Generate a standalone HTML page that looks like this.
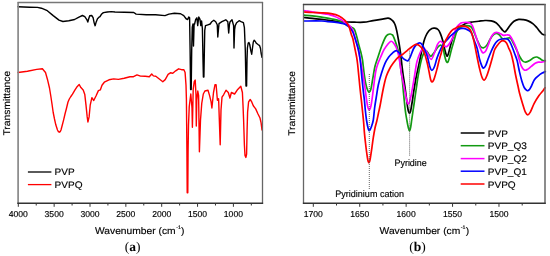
<!DOCTYPE html>
<html><head><meta charset="utf-8"><title>FTIR spectra</title>
<style>html,body{margin:0;padding:0;background:#fff;}svg{display:block;}</style>
</head><body>
<svg width="550" height="256" viewBox="0 0 550 256" text-rendering="geometricPrecision">
<rect width="550" height="256" fill="#fff"/>
<g fill="none" stroke-linejoin="round" stroke-linecap="round">
<polyline points="18,72.5 27.4,71.25 36.75,69.4 42.4,68.75 45.5,72.5 47.7,80.3 49.5,88 50.8,96 52,104 53.2,112.5 54.5,119 55.8,124.8 57.5,130 58.4,131.6 59.3,132.2 60.2,131.6 61,130 62.3,125 63.7,119.6 65,114 66.3,109 68,102 69.3,99 70.7,96.75 72.5,94.2 75,89.9 77.3,86.4 79.2,84.5 80.9,87.6 83.2,89.9 84.8,94.6 86,105.2 87.2,116.9 87.9,122 89.1,116.9 90.2,105.2 91.9,97.7 93.75,100.5 96.1,95.8 98.4,90.6 100.3,89.9 102,85.2 104.3,82.2 109,79.8 113.7,78.9 118.4,79.4 124.2,78.2 130,76.7 133.5,76.7 137,74.9 140.5,76.1 145.2,76.3 149.3,76.7 151.7,74 153.4,75.9 155.8,76.3 159.3,79 162.8,81.7 165.2,79.6 168.1,74.3 170.4,72.8 172.8,73.2 175.7,70.8 178.6,68.8 181.6,69.7 183.9,69.7 185.1,72.6 186,85 186.4,98.75 186.9,150 187.2,192.8 187.8,192.8 188.1,150 188.5,125 189.25,106.6 190.8,94 192,108 192.4,127.2 192.8,108 193.2,89.4 194.25,81.6 195.2,80 196,95 196.3,126 196.8,100 197.8,91 198.6,95.6 199.4,151.7 200.5,120 201.75,103.4 203.3,94 204.9,91 208,90.2 209.6,95.6 211.1,101.9 211.9,108 213.5,92.5 215,84.7 216.1,84.7 217.4,100.3 218.6,98.75 220.2,144.7 221,110 222,97.2 223.6,94.8 226,90.2 228.3,92.5 229.9,98 231.4,92.5 234.6,94 237.7,89.4 240.8,86.25 242.4,92.5 243,105 243.6,120 244.4,145 245,155.5 245.9,157.4 246.6,154 247.1,130 247.6,112 248.6,101.9 250.2,99.5 251.75,101.9 253.3,105.8 255.7,108.9 258,114 260,118 261.1,122.8 262,130" stroke="#ff0000" stroke-width="1.4"/>
<polyline points="18,6.8 29.7,7.2 37.5,7.4 41.4,8.2 47.3,10.7 53.2,15.6 59,20.1 62.9,21.5 68.8,20.7 74.6,19.5 78,17.7 80,16.7 82.4,15.5 84.8,16.7 86.8,19.6 87.8,22.1 88.7,18.7 89.7,15.7 91.7,15.5 93.1,17.7 94.1,22.6 95.1,25.7 96,22.6 97.5,18.7 99,17.2 100,16.7 101.4,14.3 103.4,12.6 107.3,12 111.2,11.6 115,12 124.4,12.2 133.8,12.5 136.1,14.1 146.25,14.8 155.6,14.8 165,15.6 168.9,14.1 174.4,13.3 180.6,13.75 183.75,15.6 186.1,18.75 187.7,19.5 188.75,16.9 189.6,17.8 190.1,50 190.6,89.6 191.2,89.6 191.7,50 192.25,27.2 193,24 193.5,46 194.1,24 194.6,24 195.7,19.4 196.9,17.8 197.7,25.6 198.8,17 200,19.4 200.8,25.6 201.6,21 202.4,28.75 203,60 203.4,77 203.9,77 204.3,55 204.75,30.3 205.5,25.6 207.9,24.8 210.2,24 211.8,21.7 213.8,20.2 215.7,21.7 217.25,24.8 217.8,37 218.4,30 219,23.7 221.9,21.7 225.8,19.8 227.8,21.7 228.7,33 229.5,24 230.1,21.7 232,19.8 233.6,25.6 234,48 234.6,30 235.2,25.6 236.6,22.7 239.1,20.7 241,21.7 243.4,22.7 244.4,27.6 245.3,50 246,86 246.6,86 247,60 247.4,48 248.2,43 248.9,42.5 249.7,44.5 250.8,50.5 251.7,54.2 252.5,48 253.3,42 254.1,40.2 255.3,41.5 256.4,43.3 258,44.5 259.6,45.6 260.5,48.5 261.1,53 262,57.3" stroke="#000" stroke-width="1.4"/>
</g>
<line x1="18.1" y1="2.2" x2="18.1" y2="204" stroke="#888" stroke-width="1.7"/>
<line x1="17.5" y1="2.6" x2="263.1" y2="2.6" stroke="#777" stroke-width="1.5"/>
<line x1="262.5" y1="2.2" x2="262.5" y2="204" stroke="#666" stroke-width="1.3"/>
<line x1="17.4" y1="203.3" x2="263.1" y2="203.3" stroke="#333" stroke-width="1.4"/>
<path d="M18.3,203.3v3.5M36.23,203.3v2.2M54.15,203.3v3.5M72.08,203.3v2.2M90,203.3v3.5M107.92,203.3v2.2M125.85,203.3v3.5M143.78,203.3v2.2M161.7,203.3v3.5M179.62,203.3v2.2M197.55,203.3v3.5M215.48,203.3v2.2M233.4,203.3v3.5M251.33,203.3v2.2" stroke="#333" stroke-width="1" fill="none"/>
<g font-family="'Liberation Sans', Arial, sans-serif" font-size="8.6" fill="#000" stroke="#000" stroke-width="0.15" text-anchor="middle">
<text x="18.3" y="216.6">4000</text>
<text x="54.15" y="216.6">3500</text>
<text x="90" y="216.6">3000</text>
<text x="125.85" y="216.6">2500</text>
<text x="161.7" y="216.6">2000</text>
<text x="197.55" y="216.6">1500</text>
<text x="233.4" y="216.6">1000</text>
</g>
<g fill="none" stroke-linejoin="round" stroke-linecap="round" stroke-width="1.7">
<path d="M303.8,17.5C305.23,17.63 309.41,17.98 312.4,18.3C315.39,18.62 318.65,19.02 321.75,19.4C324.85,19.78 328.12,20.22 331,20.6C333.88,20.98 336.67,21.48 339,21.7C341.33,21.92 342.43,21.82 345,21.9C347.57,21.98 351.27,22.15 354.4,22.2C357.52,22.25 360.63,22.47 363.75,22.2C366.87,21.93 369.98,21.12 373.1,20.6C376.23,20.08 380.02,19.52 382.5,19.1C384.98,18.68 386.57,18.05 388,18.1C389.43,18.15 390.3,18.95 391.1,19.4C391.9,19.85 392.32,20.28 392.8,20.8C393.28,21.32 393.6,21.8 394,22.5C394.4,23.2 394.75,23.65 395.2,25C395.65,26.35 396.18,28.27 396.7,30.6C397.22,32.93 397.78,36.1 398.3,39C398.82,41.9 399.35,45 399.8,48C400.25,51 400.63,54 401,57C401.37,60 401.62,62.83 402,66C402.38,69.17 402.83,72.67 403.3,76C403.77,79.33 404.28,82.33 404.8,86C405.32,89.67 405.93,94.5 406.4,98C406.87,101.5 407.25,104.75 407.6,107C407.95,109.25 408.18,110.45 408.5,111.5C408.82,112.55 409.17,113.3 409.5,113.3C409.83,113.3 410.17,112.72 410.5,111.5C410.83,110.28 411.17,107.92 411.5,106C411.83,104.08 412.17,102.17 412.5,100C412.83,97.83 412.95,96.5 413.5,93C414.05,89.5 415.1,82.83 415.8,79C416.5,75.17 417.13,72.67 417.7,70C418.27,67.33 418.73,65.17 419.2,63C419.67,60.83 419.98,59.5 420.5,57C421.02,54.5 421.72,50.67 422.3,48C422.88,45.33 423.42,43 424,41C424.58,39 425.01,37.67 425.8,36C426.59,34.33 427.73,32.25 428.75,31C429.77,29.75 430.89,28.97 431.9,28.5C432.91,28.03 433.78,28.03 434.8,28.2C435.82,28.37 437.08,28.63 438,29.5C438.92,30.37 439.52,31.57 440.3,33.4C441.08,35.23 441.9,37.57 442.7,40.5C443.5,43.43 444.4,48.4 445.1,51C445.8,53.6 446.32,55.77 446.9,56.1C447.48,56.43 447.95,54.95 448.6,53C449.25,51.05 450.05,47.07 450.8,44.4C451.55,41.73 452.32,39.07 453.1,37C453.88,34.93 454.77,33.25 455.5,32C456.23,30.75 456.65,30.43 457.5,29.5C458.35,28.57 459.56,27.18 460.6,26.4C461.64,25.62 462.81,25.35 463.75,24.8C464.69,24.25 464.79,23.57 466.25,23.1C467.71,22.63 470.42,22.31 472.5,22C474.58,21.69 476.67,21.5 478.75,21.25C480.83,21 482.92,20.56 485,20.5C487.08,20.44 489.42,20.52 491.25,20.9C493.08,21.28 494.57,21.83 496,22.8C497.43,23.77 498.75,25.53 499.8,26.7C500.85,27.87 501.48,28.93 502.3,29.8C503.12,30.67 503.92,31.9 504.7,31.9C505.48,31.9 506.08,30.92 507,29.8C507.92,28.68 509.03,26.62 510.2,25.2C511.37,23.77 512.58,22.22 514,21.25C515.42,20.28 517.18,19.66 518.75,19.4C520.32,19.14 521.84,19.45 523.4,19.7C524.96,19.95 526.53,20.25 528.1,20.9C529.67,21.55 531.37,22.5 532.8,23.6C534.23,24.7 535.53,26.2 536.7,27.5C537.87,28.8 538.88,30.3 539.8,31.4C540.72,32.5 541.33,33.5 542.2,34.1C543.07,34.7 544.53,34.85 545,35" stroke="#000"/>
<path d="M303.8,15.2C305.23,15.32 309.41,15.57 312.4,15.9C315.39,16.23 318.63,16.72 321.75,17.2C324.87,17.68 328.23,18.18 331.1,18.75C333.98,19.32 336.68,19.73 339,20.6C341.32,21.48 342.96,22.9 345,24C347.04,25.1 349.68,26.28 351.25,27.2C352.82,28.12 353.49,27.93 354.4,29.5C355.31,31.07 355.92,33.85 356.7,36.6C357.48,39.35 358.42,43.43 359.1,46C359.78,48.57 360.23,49.67 360.8,52C361.37,54.33 361.97,56.58 362.5,60C363.03,63.42 363.48,68.67 364,72.5C364.52,76.33 365.07,80.25 365.6,83C366.13,85.75 366.63,87.45 367.2,89C367.77,90.55 368.4,92.22 369,92.3C369.6,92.38 370.18,91.72 370.8,89.5C371.42,87.28 372,82.88 372.7,79C373.4,75.12 374.12,69.92 375,66.25C375.88,62.58 376.88,60.38 378,57C379.12,53.62 380.43,49.33 381.7,46C382.97,42.67 384.53,38.92 385.6,37C386.67,35.08 387.32,35 388.1,34.5C388.88,34 389.57,33.92 390.3,34C391.03,34.08 391.95,34.52 392.5,35C393.05,35.48 393.03,35.55 393.6,36.9C394.17,38.25 395.12,40.75 395.9,43.1C396.68,45.45 397.7,48.52 398.3,51C398.9,53.48 399.07,54.83 399.5,58C399.93,61.17 400.43,66.33 400.9,70C401.37,73.67 401.85,76 402.3,80C402.75,84 403.18,89.67 403.6,94C404.02,98.33 404.43,102.67 404.8,106C405.17,109.33 405.43,111.5 405.8,114C406.17,116.5 406.6,118.83 407,121C407.4,123.17 407.78,125.33 408.2,127C408.62,128.67 409.08,131 409.5,131C409.92,131 410.33,128.83 410.7,127C411.07,125.17 411.32,122.67 411.7,120C412.08,117.33 412.58,113.83 413,111C413.42,108.17 413.83,105.5 414.2,103C414.57,100.5 414.82,98.67 415.2,96C415.58,93.33 416.02,90.33 416.5,87C416.98,83.67 417.43,79.92 418.1,76C418.77,72.08 419.72,66.95 420.5,63.5C421.28,60.05 421.88,57.45 422.8,55.3C423.72,53.15 424.97,50.73 426,50.6C427.03,50.47 428.17,53.58 429,54.5C429.83,55.42 430.1,56.48 431,56.1C431.9,55.72 433.32,53.63 434.4,52.2C435.48,50.77 436.47,48.67 437.5,47.5C438.53,46.33 439.68,45.2 440.6,45.2C441.52,45.2 442.35,45.82 443,47.5C443.65,49.18 443.98,53.08 444.5,55.3C445.02,57.52 445.57,59.63 446.1,60.8C446.63,61.97 447.18,62.7 447.7,62.3C448.22,61.9 448.55,60.62 449.2,58.4C449.85,56.18 450.82,51.86 451.6,49C452.38,46.14 453.12,43.92 453.9,41.25C454.67,38.58 455.48,35.04 456.25,33C457.02,30.96 457.77,29.97 458.5,29C459.23,28.03 459.47,27.77 460.6,27.2C461.73,26.63 463.57,25.68 465.3,25.6C467.03,25.52 469.55,25.6 471,26.7C472.45,27.8 472.97,29.98 474,32.2C475.03,34.42 476.15,37.66 477.2,40C478.25,42.34 479.27,44.95 480.3,46.25C481.33,47.55 482.35,47.92 483.4,47.8C484.45,47.67 485.55,46.8 486.6,45.5C487.65,44.2 488.67,41.7 489.7,40C490.73,38.3 491.75,36.4 492.8,35.3C493.85,34.2 494.97,33.53 496,33.4C497.03,33.27 497.97,33.67 499,34.5C500.03,35.33 501.15,37.72 502.2,38.4C503.25,39.08 503.97,38.65 505.3,38.6C506.63,38.55 508.87,37.35 510.2,38.1C511.53,38.85 512.27,41.22 513.3,43.1C514.33,44.98 515.37,47.21 516.4,49.4C517.43,51.59 518.45,54.32 519.5,56.25C520.55,58.18 521.65,60.01 522.7,61C523.75,61.99 524.63,62.27 525.8,62.2C526.97,62.13 528.4,61.33 529.7,60.6C531,59.87 532.43,58.4 533.6,57.8C534.77,57.2 535.67,56.87 536.7,57C537.73,57.13 538.75,58 539.8,58.6C540.85,59.2 542.08,60.27 543,60.6C543.92,60.93 544.92,60.6 545.3,60.6" stroke="#129a12"/>
<path d="M303.8,10.6C304.5,10.7 306.63,11 308,11.2C309.37,11.4 310.67,11.58 312,11.8C313.33,12.02 314.38,12.23 316,12.5C317.62,12.77 320.08,13.13 321.75,13.4C323.42,13.67 324.62,13.85 326,14.1C327.38,14.35 328.5,14.5 330,14.9C331.5,15.3 333.42,15.87 335,16.5C336.58,17.13 338.25,18.02 339.5,18.7C340.75,19.38 341.58,19.95 342.5,20.6C343.42,21.25 343.8,21.72 345,22.6C346.2,23.48 348.4,24.62 349.7,25.9C351,27.18 351.88,28.27 352.8,30.3C353.72,32.33 354.42,35.48 355.2,38.1C355.98,40.72 356.73,42.77 357.5,46C358.27,49.23 359.08,53.83 359.8,57.5C360.52,61.17 361.18,64.58 361.8,68C362.42,71.42 362.97,74.67 363.5,78C364.03,81.33 364.53,84.67 365,88C365.47,91.33 365.85,94.92 366.3,98C366.75,101.08 367.22,104.5 367.7,106.5C368.18,108.5 368.68,110 369.2,110C369.72,110 370.28,108.58 370.8,106.5C371.32,104.42 371.82,100.92 372.3,97.5C372.78,94.08 373.12,90.42 373.7,86C374.28,81.58 375.07,74.82 375.8,71C376.53,67.18 377.32,65.35 378.1,63.1C378.88,60.85 379.52,59.73 380.5,57.5C381.48,55.27 382.75,51.95 384,49.7C385.25,47.45 386.83,45.4 388,44C389.17,42.6 390.15,41.55 391,41.3C391.85,41.05 392.23,41.47 393.1,42.5C393.98,43.53 395.33,45.37 396.25,47.5C397.17,49.63 397.94,52.38 398.6,55.3C399.26,58.22 399.72,61.88 400.2,65C400.68,68.12 400.98,71 401.5,74C402.02,77 402.62,79.5 403.3,83C403.98,86.5 404.98,91.92 405.6,95C406.22,98.08 406.57,99.97 407,101.5C407.43,103.03 407.78,104.12 408.2,104.2C408.62,104.28 409.03,103.37 409.5,102C409.97,100.63 410.5,98.33 411,96C411.5,93.67 411.97,91 412.5,88C413.03,85 413.68,81.17 414.2,78C414.72,74.83 415.13,71.75 415.6,69C416.07,66.25 416.32,64.04 417,61.5C417.68,58.96 418.73,55.95 419.7,53.75C420.67,51.55 421.88,49.01 422.8,48.3C423.72,47.59 424.32,48.47 425.2,49.5C426.08,50.53 427.09,52.83 428.1,54.5C429.11,56.17 430.2,59.75 431.25,59.5C432.3,59.25 433.36,55.52 434.4,53C435.44,50.48 436.52,46.36 437.5,44.4C438.48,42.44 439.43,41.48 440.3,41.25C441.17,41.02 441.9,42.12 442.7,43C443.5,43.88 444.3,46 445.1,46.5C445.9,47 446.68,46.62 447.5,46C448.32,45.38 449.07,44.37 450,42.8C450.93,41.23 451.98,39.2 453.1,36.6C454.22,34 455.45,29.42 456.7,27.2C457.95,24.98 459.43,24.08 460.6,23.3C461.78,22.52 462.28,22.58 463.75,22.5C465.22,22.42 467.94,22.23 469.4,22.8C470.86,23.37 471.47,23.82 472.5,25.9C473.53,27.98 474.56,32.17 475.6,35.3C476.64,38.43 477.7,41.97 478.75,44.7C479.8,47.43 481.12,50.35 481.9,51.7C482.67,53.05 482.75,52.93 483.4,52.8C484.05,52.67 484.88,52.52 485.8,50.9C486.72,49.28 487.99,45.43 488.9,43.1C489.81,40.77 490.33,38.58 491.25,36.9C492.17,35.22 493.36,33.73 494.4,33C495.44,32.27 496.47,32.38 497.5,32.5C498.53,32.62 499.6,33.28 500.6,33.75C501.6,34.22 502.52,35.09 503.5,35.3C504.48,35.51 505.52,35 506.5,35C507.48,35 508.53,34.73 509.4,35.3C510.27,35.87 510.8,36.83 511.7,38.4C512.6,39.97 513.88,42.6 514.8,44.7C515.72,46.8 516.54,48.82 517.2,51C517.86,53.18 518.1,55.37 518.75,57.8C519.4,60.23 520.19,63.57 521.1,65.6C522.01,67.63 523.17,69.35 524.2,70C525.23,70.65 526.12,70.1 527.3,69.5C528.47,68.9 529.93,67.43 531.25,66.4C532.57,65.37 534.03,64 535.2,63.3C536.38,62.6 537.27,62.38 538.3,62.2C539.33,62.02 540.23,62.36 541.4,62.2C542.57,62.04 544.65,61.41 545.3,61.25" stroke="#ff00ff"/>
<path d="M303.8,21C306.79,21 317.98,20.93 321.75,21C325.52,21.07 324.32,21.2 326.4,21.4C328.48,21.6 331.65,21.87 334.25,22.2C336.85,22.53 340.21,23.07 342,23.4C343.79,23.73 344.21,23.88 345,24.2C345.79,24.52 345.97,24.75 346.75,25.3C347.53,25.85 348.69,26.38 349.7,27.5C350.71,28.62 351.77,29.71 352.8,32C353.83,34.29 354.95,38.25 355.9,41.25C356.85,44.25 357.78,46.88 358.5,50C359.22,53.12 359.67,55.73 360.2,60C360.73,64.27 361.18,70.39 361.7,75.6C362.22,80.81 362.85,87.18 363.3,91.25C363.75,95.32 364.07,96.88 364.4,100C364.73,103.12 364.95,106.67 365.3,110C365.65,113.33 366.05,117.03 366.5,120C366.95,122.97 367.52,126.02 368,127.8C368.48,129.58 368.83,130.87 369.4,130.7C369.97,130.53 370.75,128.58 371.4,126.8C372.05,125.02 372.77,123.13 373.3,120C373.83,116.87 374.1,111.83 374.6,108C375.1,104.17 375.68,100.83 376.3,97C376.92,93.17 377.45,88.92 378.3,85C379.15,81.08 380.28,77.1 381.4,73.5C382.52,69.9 383.77,66.15 385,63.4C386.23,60.65 387.47,58.77 388.75,57C390.03,55.23 391.45,53.87 392.7,52.8C393.95,51.73 395.13,50.57 396.25,50.6C397.37,50.63 398.36,51.82 399.4,53C400.44,54.18 401.47,56.53 402.5,57.7C403.53,58.87 404.68,59.48 405.6,60C406.52,60.52 407.22,61.32 408,60.8C408.78,60.28 409.4,58.87 410.3,56.9C411.2,54.93 412.35,51.08 413.4,49C414.45,46.92 415.55,45.43 416.6,44.4C417.65,43.37 418.8,42.8 419.7,42.8C420.6,42.8 421.22,43.37 422,44.4C422.78,45.43 423.48,46.92 424.4,49C425.32,51.08 426.6,53.98 427.5,56.9C428.4,59.82 429.07,64.27 429.8,66.5C430.53,68.73 431.12,70.3 431.9,70.3C432.68,70.3 433.67,68.48 434.5,66.5C435.33,64.52 435.98,61.05 436.9,58.4C437.82,55.75 438.86,53.08 440,50.6C441.14,48.12 442.55,45.32 443.75,43.5C444.95,41.68 446.07,40.95 447.2,39.7C448.32,38.45 449.37,37.12 450.5,36C451.63,34.88 452.92,33.92 454,33C455.08,32.08 456,31.23 457,30.5C458,29.77 459,28.95 460,28.6C461,28.25 462,28.33 463,28.4C464,28.47 464.67,28.37 466,29C467.33,29.63 469.67,30.37 471,32.2C472.33,34.03 472.97,37.28 474,40C475.03,42.72 476.28,45.33 477.2,48.5C478.12,51.67 478.72,56.07 479.5,59C480.28,61.93 481.25,64.58 481.9,66.1C482.55,67.62 482.75,68.23 483.4,68.1C484.05,67.97 485.02,66.82 485.8,65.3C486.58,63.78 487.19,61.34 488.1,59C489.01,56.66 490.2,53.63 491.25,51.25C492.3,48.87 493.36,46.44 494.4,44.7C495.44,42.96 496.47,41.72 497.5,40.8C498.53,39.88 499.4,39.54 500.6,39.2C501.8,38.86 503.5,38.75 504.7,38.75C505.9,38.75 506.88,38.61 507.8,39.2C508.72,39.79 509.42,40.87 510.2,42.3C510.98,43.73 511.73,45.85 512.5,47.8C513.27,49.75 514.02,51.82 514.8,54C515.58,56.18 516.42,57.92 517.2,60.9C517.98,63.88 518.72,68.51 519.5,71.9C520.28,75.29 521.12,78.65 521.9,81.25C522.68,83.85 523.3,85.92 524.2,87.5C525.1,89.08 526.42,90.37 527.3,90.7C528.18,91.03 528.84,90.2 529.5,89.5C530.16,88.8 530.43,88.13 531.25,86.5C532.07,84.87 533.23,81.48 534.4,79.7C535.57,77.92 537,76.9 538.3,75.8C539.6,74.7 541.03,73.8 542.2,73.1C543.37,72.4 544.78,71.85 545.3,71.6" stroke="#0000ff"/>
<path d="M303.8,12C305.23,12.08 309.41,12.37 312.4,12.5C315.39,12.63 318.63,12.62 321.75,12.8C324.87,12.98 328.23,13.08 331.1,13.6C333.98,14.12 336.65,14.73 339,15.9C341.35,17.07 343.52,18.77 345.2,20.6C346.88,22.43 348.07,24.55 349.1,26.9C350.13,29.25 350.78,32.77 351.4,34.7C352.02,36.63 352.3,36.62 352.8,38.5C353.3,40.38 353.93,43.75 354.4,46C354.87,48.25 355.22,50.08 355.6,52C355.98,53.92 356.37,55.5 356.7,57.5C357.03,59.5 357.32,61.58 357.6,64C357.88,66.42 358.1,69 358.4,72C358.7,75 359.1,79 359.4,82C359.7,85 359.87,86.9 360.2,90C360.53,93.1 361,96.93 361.4,100.6C361.8,104.27 362.23,108.43 362.6,112C362.97,115.57 363.28,118.38 363.6,122C363.92,125.62 364.18,130.2 364.5,133.7C364.82,137.2 365.17,140.07 365.5,143C365.83,145.93 366.18,148.83 366.5,151.25C366.82,153.67 367.12,155.78 367.4,157.5C367.68,159.22 367.95,160.72 368.2,161.6C368.45,162.48 368.67,162.8 368.9,162.8C369.13,162.8 369.33,162.57 369.6,161.6C369.87,160.63 370.1,159.43 370.5,157C370.9,154.57 371.53,150.23 372,147C372.47,143.77 372.8,140.77 373.3,137.6C373.8,134.43 374.42,130.77 375,128C375.58,125.23 376.22,123.5 376.8,121C377.38,118.5 377.93,115.67 378.5,113C379.07,110.33 379.52,108.5 380.2,105C380.88,101.5 381.88,95.67 382.6,92C383.32,88.33 383.87,85.67 384.5,83C385.13,80.33 385.57,78.33 386.4,76C387.23,73.67 388.38,71.12 389.5,69C390.62,66.88 391.72,65.18 393.1,63.3C394.48,61.42 396.23,59.17 397.8,57.7C399.37,56.23 400.93,55.68 402.5,54.5C404.07,53.32 405.63,51.9 407.2,50.6C408.77,49.3 410.47,47.73 411.9,46.7C413.33,45.67 414.63,44.65 415.8,44.4C416.97,44.15 417.87,44.55 418.9,45.2C419.93,45.85 421.08,47 422,48.3C422.92,49.6 423.62,50.92 424.4,53C425.18,55.08 426.05,58.33 426.7,60.8C427.35,63.27 427.65,64.68 428.3,67.8C428.95,70.92 429.98,77.13 430.6,79.5C431.22,81.87 431.53,81.83 432,82C432.47,82.17 432.98,81.2 433.4,80.5C433.82,79.8 433.92,79.65 434.5,77.8C435.08,75.95 436.12,72.37 436.9,69.4C437.68,66.43 438.58,62.35 439.2,60C439.82,57.65 439.84,57.9 440.6,55.3C441.36,52.7 442.7,47.27 443.75,44.4C444.8,41.53 445.99,39.83 446.9,38.1C447.81,36.37 448.35,35.3 449.2,34C450.05,32.7 450.87,31.3 452,30.3C453.13,29.3 454.83,28.65 456,28C457.17,27.35 457.97,26.7 459,26.4C460.03,26.1 460.99,26.15 462.2,26.2C463.41,26.25 464.92,26.1 466.25,26.7C467.58,27.3 469.02,27.85 470.2,29.8C471.38,31.75 472.4,35.13 473.3,38.4C474.2,41.67 474.95,46.22 475.6,49.4C476.25,52.58 476.55,54.33 477.2,57.5C477.85,60.67 478.72,65.15 479.5,68.4C480.28,71.65 481.12,75.03 481.9,77C482.68,78.97 483.42,80.33 484.2,80.2C484.98,80.08 485.68,78.47 486.6,76.25C487.52,74.03 488.67,70.28 489.7,66.9C490.73,63.53 492,58.82 492.8,56C493.6,53.18 493.85,51.62 494.5,50C495.15,48.38 495.68,47.65 496.7,46.25C497.72,44.85 499.43,42.51 500.6,41.6C501.78,40.69 502.77,40.57 503.75,40.8C504.73,41.03 505.69,41.83 506.5,43C507.31,44.17 507.85,46.08 508.6,47.8C509.35,49.52 510.22,50.85 511,53.3C511.78,55.75 512.53,58.88 513.3,62.5C514.07,66.12 514.82,71.08 515.6,75C516.38,78.92 517.35,83 518,86C518.65,89 518.75,90.1 519.5,93C520.25,95.9 521.52,100.2 522.5,103.4C523.48,106.6 524.53,110.3 525.4,112.2C526.27,114.1 526.88,114.8 527.7,114.8C528.52,114.8 529.22,114.1 530.3,112.2C531.38,110.3 532.75,106.17 534.2,103.4C535.65,100.63 537.53,97.72 539,95.6C540.47,93.48 542,92 543,90.7C544,89.4 544.67,88.28 545,87.8" stroke="#ff0000"/>
</g>
<line x1="369.3" y1="74" x2="369.3" y2="189" stroke="#555" stroke-width="0.9" stroke-dasharray="1,1"/>
<line x1="409.6" y1="50.6" x2="409.6" y2="156.5" stroke="#555" stroke-width="0.9" stroke-dasharray="1,1"/>
<line x1="303.5" y1="3.9" x2="303.5" y2="204" stroke="#666" stroke-width="1.3"/>
<line x1="302.9" y1="4.5" x2="545.7" y2="4.5" stroke="#444" stroke-width="1.3"/>
<line x1="545.0" y1="3.9" x2="545.0" y2="204" stroke="#666" stroke-width="1.5"/>
<line x1="302.9" y1="203.3" x2="545.7" y2="203.3" stroke="#333" stroke-width="1.4"/>
<path d="M313.3,203.3v3.5M336.51,203.3v2.2M359.72,203.3v3.5M382.93,203.3v2.2M406.14,203.3v3.5M429.35,203.3v2.2M452.56,203.3v3.5M475.77,203.3v2.2M498.98,203.3v3.5M522.19,203.3v2.2" stroke="#333" stroke-width="1" fill="none"/>
<g font-family="'Liberation Sans', Arial, sans-serif" font-size="8.6" fill="#000" stroke="#000" stroke-width="0.15" text-anchor="middle">
<text x="313.3" y="216.6">1700</text>
<text x="359.72" y="216.6">1650</text>
<text x="406.14" y="216.6">1600</text>
<text x="452.56" y="216.6">1550</text>
<text x="498.98" y="216.6">1500</text>
</g>

<g font-family="'Liberation Sans', Arial, sans-serif" fill="#000" stroke="#000" stroke-width="0.15">
<text font-size="9.7" text-anchor="middle" transform="translate(10.4 103.2) rotate(-90) scale(1.06 1)">Transmittance</text>
<text font-size="9.7" text-anchor="middle" transform="translate(295 103.5) rotate(-90) scale(1.06 1)">Transmittance</text>
<text font-size="9.7" transform="translate(95 234.2) scale(1.06 1)">Wavenumber (cm<tspan font-size="5" dx="0.5" dy="-5">-1</tspan><tspan dx="0.2" dy="5">)</tspan></text>
<text font-size="9.7" transform="translate(379.6 234.2) scale(1.06 1)">Wavenumber (cm<tspan font-size="5" dx="0.5" dy="-5">-1</tspan><tspan dx="0.2" dy="5">)</tspan></text>
<g font-size="9.5">
<text transform="translate(54.5 175.1) scale(1.06 1)">PVP</text>
<text transform="translate(54.5 187.8) scale(1.06 1)">PVPQ</text>
<text transform="translate(487.7 136.6) scale(1.06 1)">PVP</text>
<text transform="translate(487.7 149.3) scale(1.06 1)">PVP_Q3</text>
<text transform="translate(487.7 162.1) scale(1.06 1)">PVP_Q2</text>
<text transform="translate(487.7 174.8) scale(1.06 1)">PVP_Q1</text>
<text transform="translate(487.7 187.6) scale(1.06 1)">PVPQ</text>
</g>
<text font-size="9.3" transform="translate(394.5 166.2) scale(0.96 1)">Pyridine</text>
<text font-size="9.3" transform="translate(335.3 197.4) scale(0.97 1)">Pyridinium cation</text>
</g>
<g stroke-width="1.5">
<line x1="27.9" y1="172" x2="51.4" y2="172" stroke="#000" stroke-width="1.3"/>
<line x1="27.9" y1="184.6" x2="51.4" y2="184.6" stroke="#ff0000" stroke-width="1.3"/>
<line x1="460.7" y1="133" x2="484.5" y2="133" stroke="#000"/>
<line x1="460.7" y1="145.7" x2="484.5" y2="145.7" stroke="#129a12"/>
<line x1="460.7" y1="158.6" x2="484.5" y2="158.6" stroke="#ff00ff"/>
<line x1="460.7" y1="171.2" x2="484.5" y2="171.2" stroke="#0000ff"/>
<line x1="460.7" y1="184" x2="484.5" y2="184" stroke="#ff0000"/>
</g>
<g font-family="'Liberation Serif', 'Times New Roman', serif" font-size="13.5" fill="#000" text-anchor="middle">
<text x="132.6" y="250.6">(<tspan font-weight="bold">a</tspan>)</text>
<text x="417" y="251" dx="0.5">(<tspan font-weight="bold">b</tspan>)</text>
</g>

</svg>
</body></html>
